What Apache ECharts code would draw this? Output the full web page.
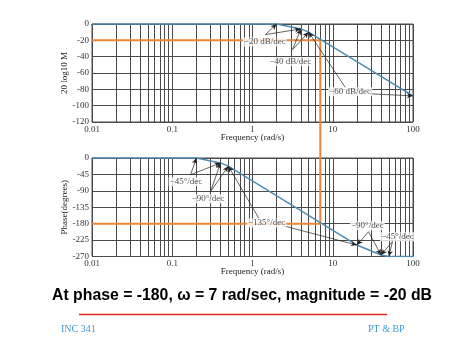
<!DOCTYPE html>
<html><head><meta charset="utf-8">
<script src="https://cdn.jsdelivr.net/npm/echarts@6/dist/echarts.min.js"></script>
<style>html,body{margin:0;padding:0;background:#fff}#c{width:474px;height:355px}</style>
</head><body><div id="c"></div>
<script>
// ---- data ----
const freqTicks = [0.01, 0.1, 1, 10, 100];
const magTicks = [0, -20, -40, -60, -80, -100, -120];
const phaseTicks = [0, -45, -90, -135, -180, -225, -270];
const magAsymptote = [[0.01, 0], [2, 0], [4, -6.02], [5, -9.9], [100, -88]];
const phaseAsymptote = [[0.01, 0], [0.2, 0], [0.4, -13.5], [0.5, -22.3], [20, -238.6], [40, -265.7], [50, -270], [100, -270]];
const crossFreq = 7;
const crossMag = -20;
const crossPhase = -180;
// annotation texts and where they sit (data coordinates)
const magNotes = [
  {text: '\u221220 dB/dec', at: [1.42, -22]},
  {text: '\u221240 dB/dec', at: [2.97, -46]},
  {text: '\u221260 dB/dec', at: [16.5, -83]}
];
const magArrows = [
  [[1.45, -13], [2, 0]], [[1.45, -13], [4, -6.02]],
  [[3.15, -31.5], [4, -6.02]], [[3.15, -31.5], [5, -9.9]],
  [[14.4, -78], [5, -9.9]], [[29.5, -85.5], [100, -88]]
];
const phaseNotes = [
  {text: '\u221245\u00b0/dec', at: [0.148, -65]},
  {text: '\u221290\u00b0/dec', at: [0.279, -112]},
  {text: '\u2212135\u00b0/dec', at: [1.5, -178]},
  {text: '\u221290\u00b0/dec', at: [27, -186]},
  {text: '\u221245\u00b0/dec', at: [64, -216]}
];
const phaseArrows = [
  [[0.169, -46], [0.2, 0]], [[0.169, -46], [0.4, -13.5]],
  [[0.3, -92], [0.4, -13.5]], [[0.3, -92], [0.5, -22.3]],
  [[1.19, -164], [0.5, -22.3]], [[2.43, -186], [20, -238.6]],
  [[27.9, -202], [20, -238.6]], [[27.9, -202], [40, -265.7]],
  [[55.6, -229], [40, -265.7]], [[55.6, -229], [50, -270]]
];
const title = 'At phase = -180, \u03c9 = 7 rad/sec, magnitude = -20 dB';
const footLeft = 'INC 341';
const footRight = 'PT & BP';

// ---- styles ----
const BLUE = '#4a8cb2', ORANGE = '#e8843c', GRIDC = '#4a4a4a';
const SERIF = 'Liberation Serif';

const minorVals = [];
for (let d = 0; d < freqTicks.length - 1; d++) {
  for (let k = 2; k <= 9; k++) minorVals.push(+(freqTicks[d] * k).toPrecision(3));
}
function minorSeries(gi) {
  return {
    type: 'line', xAxisIndex: gi, yAxisIndex: gi, data: [], silent: true, z: 1,
    markLine: {silent: true, z: 1, symbol: ['none', 'none'], animation: false,
      label: {show: false}, lineStyle: {color: GRIDC, width: 1, type: 'solid'},
      data: minorVals.map(v => ({xAxis: v}))}
  };
}
function arrowSeries(gi, arrows) {
  return {
    type: 'line', xAxisIndex: gi, yAxisIndex: gi, data: [], silent: true, z: 6,
    markLine: {silent: true, z: 6, symbol: ['none', 'arrow'], symbolSize: [4, 6], animation: false,
      label: {show: false}, lineStyle: {color: '#222', width: 0.7, type: 'solid'},
      data: arrows.map(a => [{coord: a[0]}, {coord: a[1]}])}
  };
}
function noteSeries(gi, notes) {
  return {
    type: 'scatter', xAxisIndex: gi, yAxisIndex: gi, silent: true, z: 7,
    symbolSize: 1, itemStyle: {color: 'rgba(0,0,0,0)'},
    data: notes.map(n => ({value: n.at, name: n.text})),
    label: {show: true, position: 'inside', formatter: p => p.name,
      fontFamily: SERIF, fontSize: 9, color: '#222', backgroundColor: '#fff', padding: [0, 1]}
  };
}
function xAxis(gi) {
  return {
    type: 'log', logBase: 10, min: freqTicks[0], max: freqTicks[freqTicks.length - 1], gridIndex: gi,
    name: 'Frequency (rad/s)', nameLocation: 'middle', nameGap: 11, nameMoveOverlap: false,
    nameTextStyle: {fontFamily: SERIF, fontSize: 9, color: '#222'},
    axisLine: {show: true, lineStyle: {color: GRIDC}}, axisTick: {show: false},
    axisLabel: {fontFamily: SERIF, fontSize: 9, color: '#333', margin: 3,
      formatter: v => String(+v.toPrecision(3))},
    splitLine: {show: true, lineStyle: {color: GRIDC, width: 1}}
  };
}
function yAxis(gi, ticks, name) {
  return {
    type: 'value', gridIndex: gi, min: ticks[ticks.length - 1], max: ticks[0],
    interval: ticks[0] - ticks[1],
    name: name, nameLocation: 'middle', nameGap: 23, nameRotate: 90, nameMoveOverlap: false,
    nameTextStyle: {fontFamily: SERIF, fontSize: 9, color: '#222'},
    axisLine: {show: true, lineStyle: {color: GRIDC}}, axisTick: {show: false},
    axisLabel: {fontFamily: SERIF, fontSize: 9, color: '#333', margin: 3,
      formatter: v => String(v)},
    splitLine: {show: true, lineStyle: {color: GRIDC, width: 1}}
  };
}

const chart = echarts.init(document.getElementById('c'), null, {renderer: 'canvas'});
const topOrange = [[freqTicks[0], crossMag], [crossFreq, crossMag], [crossFreq, magTicks[magTicks.length - 1]]];
const bottomOrange = [[freqTicks[0], crossPhase], [crossFreq, crossPhase], [crossFreq, phaseTicks[0]]];
const option = {
  animation: false,
  backgroundColor: '#fff',
  grid: [
    {left: 92, right: 61, top: 24, height: 98, show: true, borderColor: GRIDC, borderWidth: 1},
    {left: 92, right: 61, top: 158, height: 98.5, show: true, borderColor: GRIDC, borderWidth: 1}
  ],
  xAxis: [xAxis(0), xAxis(1)],
  yAxis: [yAxis(0, magTicks, '20 log10 M'), yAxis(1, phaseTicks, 'Phase(degrees)')],
  series: [
    minorSeries(0), minorSeries(1),
    {type: 'line', xAxisIndex: 0, yAxisIndex: 0, data: topOrange,
      symbol: 'none', lineStyle: {color: ORANGE, width: 2}, z: 3},
    {id: 'bo', type: 'line', xAxisIndex: 1, yAxisIndex: 1, data: bottomOrange, clip: false,
      symbol: 'none', lineStyle: {color: ORANGE, width: 2}, z: 3},
    {type: 'line', xAxisIndex: 0, yAxisIndex: 0, data: magAsymptote,
      symbol: 'none', lineStyle: {color: BLUE, width: 1.5}, z: 5},
    {type: 'line', xAxisIndex: 1, yAxisIndex: 1, data: phaseAsymptote,
      symbol: 'none', lineStyle: {color: BLUE, width: 1.5}, z: 5},
    arrowSeries(0, magArrows), arrowSeries(1, phaseArrows),
    noteSeries(0, magNotes), noteSeries(1, phaseNotes)
  ],
  graphic: [
    {type: 'text', x: 242, y: 296, z: 10, style: {text: title, textAlign: 'center', textVerticalAlign: 'middle',
      font: 'bold 15.8px "Liberation Sans", Arial, sans-serif', fill: '#000'}},
    {type: 'line', z: 10, shape: {x1: 79, y1: 314.5, x2: 387, y2: 314.5}, style: {stroke: '#e0261f', lineWidth: 1.5}},
    {type: 'text', x: 61, y: 329, z: 10, style: {text: footLeft, textVerticalAlign: 'middle',
      font: '10px "Liberation Serif", serif', fill: '#3d9ad6'}},
    {type: 'text', x: 368, y: 329, z: 10, style: {text: footRight, textVerticalAlign: 'middle',
      font: '10px "Liberation Serif", serif', fill: '#3d9ad6'}}
  ]
};
chart.setOption(option);
// bridge the orange crossing line across the gap between the two plots
const px = chart.convertToPixel({gridIndex: 0}, [crossFreq, magTicks[magTicks.length - 1]]);
const v = chart.convertFromPixel({gridIndex: 1}, px);
chart.setOption({series: [{id: 'bo', data: bottomOrange.concat([[crossFreq, v[1]]])}]});
</script></body></html>
